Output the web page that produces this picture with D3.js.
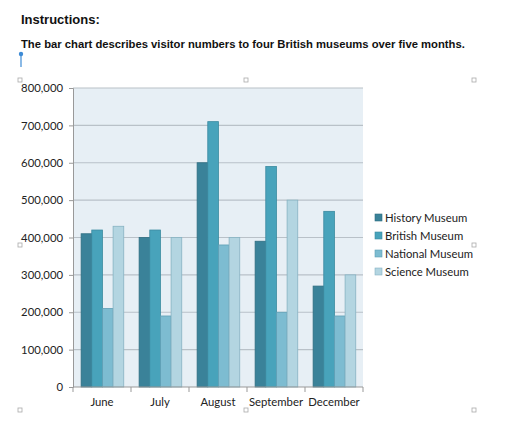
<!DOCTYPE html>
<html lang="en">
<head>
  <meta charset="UTF-8">
  <title>Museum visitors</title>
  <script src="https://cdn.jsdelivr.net/npm/d3@7"></script>
  <style>
    body { margin: 0; background: #fff; }
    .heading { font-family: "Liberation Sans", Arial, sans-serif; font-weight: bold; fill: #111; }
    .axis text, .legend text { font-family: Lato, "Open Sans", sans-serif; font-size: 11.3px; fill: #222; }
    .axis path, .axis line { stroke: #999; }
  </style>
</head>
<body>
  <svg width="512" height="424"></svg>
  <script>
    // data
    const months = ['June', 'July', 'August', 'September', 'December'];
    const museums = ['History Museum', 'British Museum', 'National Museum', 'Science Museum'];
    const history  = [410000, 400000, 600000, 390000, 270000];
    const british  = [420000, 420000, 710000, 590000, 470000];
    const national = [210000, 190000, 380000, 200000, 190000];
    const science  = [430000, 400000, 400000, 500000, 300000];
    const yTicks = [0, 100000, 200000, 300000, 400000, 500000, 600000, 700000, 800000];

    const colors = ['#3a8299', '#48a3bb', '#7dbcd1', '#b3d5e1'];
    const strokes = ['#2e6d80', '#3a8aa0', '#5f9fb5', '#87b3c3'];

    const series = [history, british, national, science];
    const rows = months.map((m, i) => ({ month: m, values: series.map((s, k) => ({ key: museums[k], value: s[i] })) }));

    const svg = d3.select('svg');
    const margin = { top: 88, left: 73 };
    const width = 290, height = 299;

    // header text
    svg.append('text').attr('class', 'heading').attr('x', 21).attr('y', 24)
      .style('font-size', '13px').text('Instructions:');
    svg.append('text').attr('class', 'heading').attr('x', 21).attr('y', 48)
      .style('font-size', '11.25px')
      .text('The bar chart describes visitor numbers to four British museums over five months.');

    // cursor pin and selection handles (editor decorations)
    svg.append('line').attr('x1', 21).attr('x2', 21).attr('y1', 54).attr('y2', 67)
      .attr('stroke', '#3d8bd6').attr('stroke-width', 1.2);
    svg.append('circle').attr('cx', 21).attr('cy', 54).attr('r', 2.2).attr('fill', '#3d8bd6');
    const handles = [[20, 80], [246, 80], [474, 80], [20, 245], [474, 245], [20, 410], [246, 410], [474, 410]];
    svg.selectAll('rect.handle').data(handles).enter().append('rect')
      .attr('class', 'handle')
      .attr('x', d => d[0] - 2).attr('y', d => d[1] - 2)
      .attr('width', 4).attr('height', 4)
      .attr('fill', '#fff').attr('stroke', '#aaa').attr('stroke-width', 0.8);

    const g = svg.append('g').attr('transform', `translate(${margin.left},${margin.top})`);

    const x0 = d3.scaleBand().domain(months).range([0, width]).padding(0);
    const x1 = d3.scaleBand().domain(museums)
      .range([x0.bandwidth() * 0.14, x0.bandwidth() * 0.875]);
    const y = d3.scaleLinear().domain([0, 800000]).range([height, 0]);

    // plot background
    g.append('rect').attr('width', width).attr('height', height).attr('fill', '#e7eff5');

    // gridlines
    g.selectAll('line.grid').data(yTicks.slice(1)).enter().append('line')
      .attr('class', 'grid')
      .attr('x1', 0).attr('x2', width)
      .attr('y1', d => y(d)).attr('y2', d => y(d))
      .attr('stroke', '#b9c1c8').attr('stroke-width', 1.2);

    // bars
    const groups = g.selectAll('g.month').data(rows).enter().append('g')
      .attr('class', 'month')
      .attr('transform', d => `translate(${x0(d.month)},0)`);

    groups.selectAll('rect').data(d => d.values).enter().append('rect')
      .attr('x', d => x1(d.key))
      .attr('y', d => y(d.value))
      .attr('width', x1.bandwidth())
      .attr('height', d => height - y(d.value))
      .attr('fill', (d, i) => colors[i])
      .attr('stroke', (d, i) => strokes[i])
      .attr('stroke-width', 0.8);

    // axes
    const yAxis = d3.axisLeft(y).tickValues(yTicks).tickSize(4).tickPadding(6)
      .tickFormat(d3.format(','));
    g.append('g').attr('class', 'axis').call(yAxis);

    const xAxis = g.append('g').attr('class', 'axis').attr('transform', `translate(0,${height})`)
      .call(d3.axisBottom(x0).tickSize(0).tickPadding(11));
    xAxis.select('.domain').remove();
    xAxis.append('line').attr('x1', 0).attr('x2', width).attr('stroke', '#999');
    xAxis.selectAll('line.sep').data(months.concat(['end'])).enter().append('line')
      .attr('class', 'sep')
      .attr('x1', (d, i) => i * x0.step()).attr('x2', (d, i) => i * x0.step())
      .attr('y1', 0).attr('y2', 5).attr('stroke', '#999');

    // legend
    const legend = svg.append('g').attr('class', 'legend').attr('transform', 'translate(375,218)');
    const items = legend.selectAll('g').data(museums).enter().append('g')
      .attr('transform', (d, i) => `translate(0,${i * 18})`);
    items.append('rect').attr('x', 0).attr('y', -4).attr('width', 7).attr('height', 7)
      .attr('fill', (d, i) => colors[i]).attr('stroke', (d, i) => strokes[i]).attr('stroke-width', 0.6);
    items.append('text').attr('x', 10).attr('y', 4).text(d => d);
  </script>
</body>
</html>
